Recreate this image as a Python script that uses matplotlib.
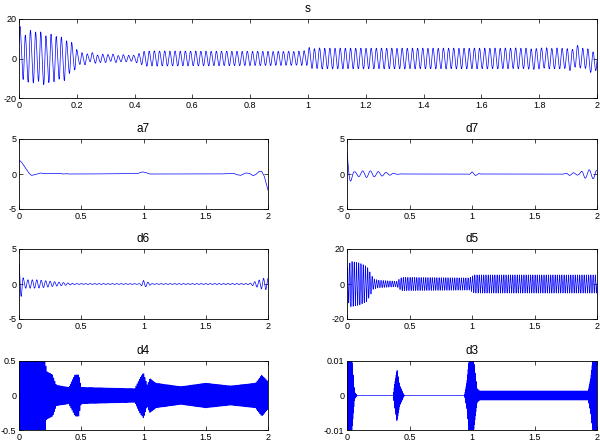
import matplotlib
matplotlib.use('Agg')
import matplotlib.pyplot as plt
import numpy as np

plt.rcParams.update({
    'font.family': ['Liberation Sans', 'DejaVu Sans'],
    'font.size': 6,
    'axes.linewidth': 0.6,
    'xtick.direction': 'in', 'ytick.direction': 'in',
    'xtick.top': True, 'ytick.right': True,
    'xtick.major.size': 3, 'ytick.major.size': 3,
    'xtick.major.width': 0.5, 'ytick.major.width': 0.5,
    'xtick.labelsize': 6.5, 'ytick.labelsize': 6.5,
})

FS = 4000
t = np.arange(0, 2 + 1 / FS, 1 / FS)

# ---- a7: approximation, points ----
a7_t = [0, 0.02, 0.05, 0.08, 0.1, 0.13, 0.17, 0.2, 0.25, 0.33, 0.35, 0.38, 0.4, 0.5,
        0.95, 0.99, 1.01, 1.05, 1.1, 1.6, 1.7, 1.72, 1.75, 1.78, 1.82, 1.85, 1.88,
        1.9, 1.93, 1.95, 1.97, 2.0]
a7_v = [2.0, 1.7, 0.9, 0.1, -0.2, -0.1, 0.15, 0.05, 0.05, 0.1, 0.0, 0.05, 0.0, 0.0,
        0.05, 0.3, 0.25, 0.0, 0.0, 0.0, 0.05, 0.1, -0.1, -0.2, 0.15, 0.1, -0.25,
        -0.1, 0.4, 0.35, -0.3, -2.3]

# ---- details: envelope knots (time, amplitude) + carrier frequency ----
d7_env_t = [0, 0.015, 0.03, 0.06, 0.15, 0.25, 0.35, 0.4, 0.45, 0.97, 1.0, 1.03, 1.07,
            1.72, 1.78, 1.85, 1.9, 1.94, 1.98, 2.0]
d7_env_a = [3.0, 1.5, 1.0, 0.3, 0.5, 0.35, 0.15, 0.05, 0.0, 0.0, 0.3, 0.2, 0.0,
            0.0, 0.2, 0.15, 0.6, 0.6, 0.7, 0.5]
d7_freq = 16

d6_env_t = [0, 0.01, 0.02, 0.04, 0.15, 0.3, 0.4, 0.45, 0.97, 1.0, 1.03, 1.07,
            1.85, 1.92, 1.96, 2.0]
d6_env_a = [3.0, 2.0, 1.7, 0.6, 0.6, 0.3, 0.15, 0.06, 0.05, 0.5, 0.3, 0.05,
            0.08, 0.5, 0.8, 0.8]
d6_freq = 28

d5_env_t = [0, 0.03, 0.1, 0.16, 0.19, 0.21, 0.25, 0.4, 0.42, 0.44, 0.98, 1.0, 1.02, 2.0]
d5_env_a = [9, 13, 12, 10, 6, 3, 2.2, 1.5, 3, 3.8, 3.5, 4.5, 5.2, 5.2]
d5_freq = 56

d4_env_t = [0, 0.1, 0.2, 0.22, 0.27, 0.3, 0.4, 0.45, 0.48, 0.5, 0.93, 0.97, 1.0,
            1.03, 1.05, 1.1, 1.3, 1.5, 1.7, 1.9, 1.95, 2.0]
d4_env_a = [1.2, 1.5, 0.8, 0.35, 0.3, 0.15, 0.12, 0.3, 0.3, 0.12, 0.1, 0.25, 0.33,
            0.15, 0.25, 0.18, 0.13, 0.18, 0.14, 0.18, 0.3, 0.2]
d4_freq = 112

d3_env_t = [0, 0.04, 0.06, 0.08, 0.37, 0.38, 0.4, 0.42, 0.45, 0.46, 0.94, 0.96,
            0.98, 1.0, 1.02, 1.04, 1.06, 1.93, 1.95, 1.98, 2.0]
d3_env_a = [0.03, 0.01, 0.001, 0.0, 0.0, 0.003, 0.0075, 0.003, 0.0005, 0.0, 0.0,
            0.004, 0.012, 0.015, 0.008, 0.002, 0.0013, 0.0013, 0.005, 0.015, 0.02]
d3_freq = 250


def burst(env_t, env_a, freq, wave=np.sin):
    return np.interp(t, env_t, env_a) * wave(2 * np.pi * freq * t)


a7 = np.interp(t, a7_t, a7_v)
d7 = burst(d7_env_t, d7_env_a, d7_freq, np.cos)
d6 = burst(d6_env_t, d6_env_a, d6_freq, np.cos)
d5 = burst(d5_env_t, d5_env_a, d5_freq)
d4 = burst(d4_env_t, d4_env_a, d4_freq)
d3 = burst(d3_env_t, d3_env_a, d3_freq)
s = a7 + d7 + d6 + d5 + d4 + d3

W, H = 600, 445
fig = plt.figure(figsize=(W / 100, H / 100), dpi=100)


def add_ax(x0, y0, x1, y1):
    # pixel box -> figure fraction
    return fig.add_axes([x0 / W, 1 - y1 / H, (x1 - x0) / W, (y1 - y0) / H])


def style(ax, title, ylim, yticks, ylabels, xticks, xlabels):
    ax.set_xlim(0, 2)
    ax.set_ylim(*ylim)
    ax.set_yticks(yticks)
    ax.set_yticklabels(ylabels)
    ax.set_xticks(xticks)
    ax.set_xticklabels(xlabels)
    ax.set_title(title, fontsize=8.5, pad=5)
    ax.tick_params(pad=2)


LINE = dict(color='#0000ff', linewidth=0.5)
small_x = [0, 0.5, 1, 1.5, 2]
small_xl = ['0', '0.5', '1', '1.5', '2']

ax = add_ax(19, 19, 597, 98)
ax.plot(t, s, **LINE)
style(ax, 's', (-20, 20), [-20, 0, 20], ['-20', '0', '20'],
      np.arange(0, 2.01, 0.2),
      ['0', '0.2', '0.4', '0.6', '0.8', '1', '1.2', '1.4', '1.6', '1.8', '2'])

panels = [
    ('a7', a7, (19, 139, 268, 209), (-5, 5), [-5, 0, 5], ['-5', '0', '5']),
    ('d7', d7, (347, 139, 597, 209), (-5, 5), [-5, 0, 5], ['-5', '0', '5']),
    ('d6', d6, (19, 249, 268, 319), (-5, 5), [-5, 0, 5], ['-5', '0', '5']),
    ('d5', d5, (347, 249, 597, 319), (-20, 20), [-20, 0, 20], ['-20', '0', '20']),
    ('d4', d4, (19, 361, 268, 430), (-0.5, 0.5), [-0.5, 0, 0.5], ['-0.5', '0', '0.5']),
    ('d3', d3, (347, 361, 597, 430), (-0.01, 0.01), [-0.01, 0, 0.01], ['-0.01', '0', '0.01']),
]
for name, y, box, ylim, yt, yl in panels:
    ax = add_ax(*box)
    ax.plot(t, y, **LINE)
    style(ax, name, ylim, yt, yl, small_x, small_xl)

fig.savefig('out.png', dpi=100, facecolor='white')
